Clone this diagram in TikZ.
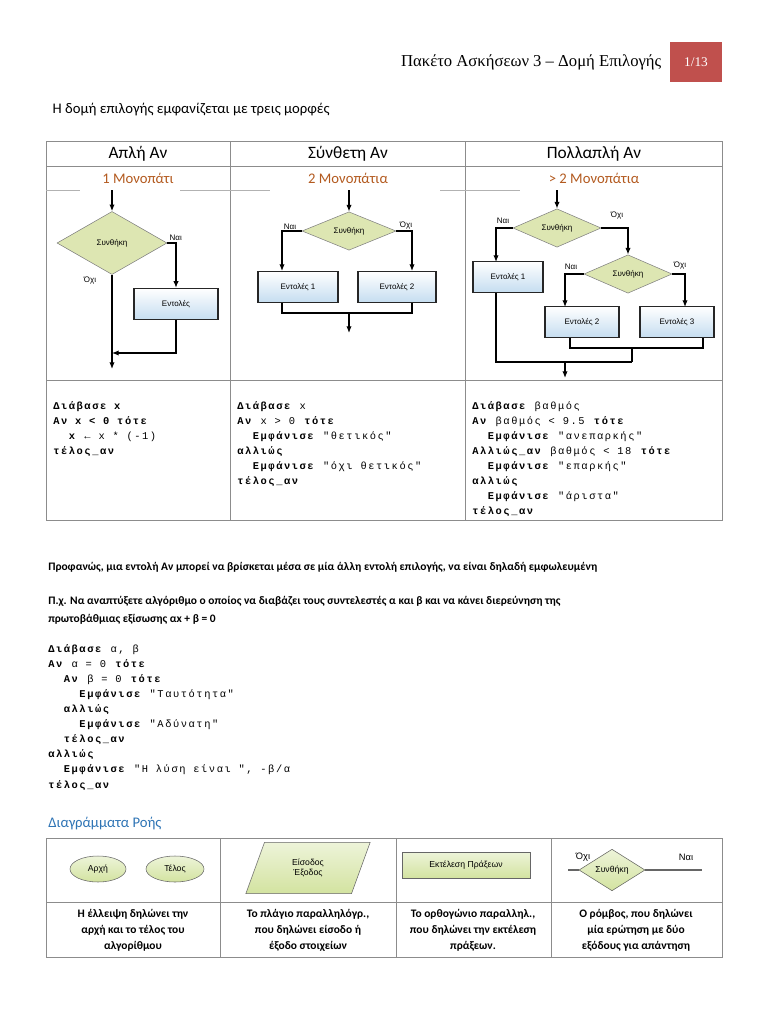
\documentclass[tikz,border=0pt]{standalone}
\usepackage{fontspec}
\setmainfont{Carlito}
\newfontfamily\hser{Liberation Serif}
\newfontfamily\cmono[LetterSpace=15]{Liberation Mono}
\newfontfamily\fsans{Liberation Sans}
\usetikzlibrary{shapes.geometric,arrows.meta}
\definecolor{brn}{HTML}{B35A1F}
\definecolor{hblue}{HTML}{2E74B5}
\definecolor{hred}{HTML}{C0504D}
\definecolor{dgreen}{HTML}{DDE6B2}
\definecolor{bgreen}{HTML}{D3E3A0}
\definecolor{bblue}{HTML}{C5DDF0}
\newcommand{\kw}[1]{\textbf{#1}}
\begin{document}
\begin{tikzpicture}[x=0.75pt,y=-0.75pt,
 mw/.style={minimum width=#1*0.75pt},
 mh/.style={minimum height=#1*0.75pt},
 grid/.style={draw=black!45,line width=0.6pt},
 box/.style={draw=black!85,line width=1pt,top color=white,bottom color=bblue,mw=#1,mh=31,inner sep=0pt,font=\fsans\fontsize{6}{7}\selectfont},
 dia/.style={diamond,draw=black!50,fill=dgreen,mw=#1,inner sep=0pt,font=\fsans\fontsize{6}{7}\selectfont},
 ln/.style={line width=0.9pt},
 ar/.style={line width=0.9pt,-{Latex[length=5pt,width=4pt]}},
 lab/.style={font=\fsans\fontsize{6}{7}\selectfont,inner sep=1pt},
 code/.style={anchor=base west,inner sep=0pt,font=\cmono\fontsize{7.8}{8}\selectfont},
 th/.style={font=\fontsize{13}{15}\selectfont},
 th2/.style={font=\fontsize{11}{13}\selectfont,text=brn},
 bt/.style={font=\bfseries\fontsize{8.6}{12}\selectfont,align=center},
 gsh/.style={draw=black!60,top color=bgreen!40,bottom color=bgreen,font=\fsans\fontsize{6.5}{8}\selectfont}]
\useasboundingbox (0,0) rectangle (768,1024);
\fill[white] (0,0) rectangle (768,1024);
% header
\node[anchor=east,font=\hser\fontsize{12.5}{14}\selectfont] (title) at (666,62) {Πακέτο Ασκήσεων 3 – Δομή Επιλογής};
\node[fill=hred,mw=52,mh=40,inner sep=0pt,text=white,font=\hser\fontsize{10}{12}\selectfont] (pg) at (696,62) {1/13};
\node[anchor=west,font=\fontsize{11}{13}\selectfont] (intro) at (48,110) {Η δομή επιλογής εμφανίζεται με τρεις μορφές};
% top table
\draw[grid] (46,141) rectangle (722,520);
\draw[grid] (230,141) -- (230,520) (465,141) -- (465,520);
\draw[grid] (46,166) -- (722,166) (46,380) -- (722,380);
\draw[black!30] (46,190) -- (80,190) (180,190) -- (270,190) (440,190) -- (520,190);
\node[th] (h1) at (138,154) {Απλή Αν};
\node[th] (h2) at (348,154) {Σύνθετη Αν};
\node[th] (h3) at (594,154) {Πολλαπλή Αν};
\node[th2] (s1) at (138,178) {1 Μονοπάτι};
\node[th2] (s2) at (348,178) {2 Μονοπάτια};
\node[th2] (s3) at (594,178) {> 2 Μονοπάτια};
% col1
\coordinate (a0) at (112,190);
\node[dia=110,mh=63] (d1) at (112,243) {Συνθήκη};
\node[box=84] (e1) at (176,304) {Εντολές};
\coordinate (a1) at (112,369);
\draw[ar] (a0) -- (d1.north);
\draw[ar] (d1.east) -| (e1.north);
\draw[ar] (e1.south) |- (112,353);
\draw[ar] (d1.south) -- (a1);
\node[lab,anchor=south west] (y1) at (168,242) {Ναι};
\node[lab] (n1) at (90,281) {Όχι};
% col2
\coordinate (b0) at (349,190);
\node[dia=94,mh=37] (d2) at (349,231) {Συνθήκη};
\node[box=80] (e21) at (298,287) {Εντολές 1};
\node[box=78] (e22) at (397,287) {Εντολές 2};
\coordinate (b1) at (349,333);
\draw[ar] (b0) -- (d2.north);
\draw[ar] (d2.west) -| (282,271);
\draw[ar] (d2.east) -| (412,271);
\draw[ln] (282,303) |- (412,313) -- (412,303);
\draw[ar] (349,313) -- (b1);
\node[lab,anchor=south] (y2) at (290,231) {Ναι};
\node[lab,anchor=south] (n2) at (406,231) {Όχι};
% col3
\coordinate (c0) at (557,190);
\node[dia=88,mh=38] (d3) at (557,228) {Συνθήκη};
\node[box=70] (e31) at (508,277) {Εντολές 1};
\node[dia=88,mh=38] (d4) at (628,274) {Συνθήκη};
\node[box=74] (e32) at (582,322) {Εντολές 2};
\node[box=74] (e33) at (677,322) {Εντολές 3};
\coordinate (c1) at (565,378);
\draw[ar] (c0) -- (d3.north);
\draw[ar] (d3.west) -| (496,262);
\draw[ar] (d3.east) -| (d4.north);
\draw[ar] (d4.west) -| (565,307);
\draw[ar] (d4.east) -| (685,307);
\draw[ln] (570,338) |- (703,348) -- (703,338);
\draw[ln] (632,348) -- (632,362);
\draw[ln] (496,293) |- (632,362);
\draw[ar] (565,362) -- (c1);
\node[lab,anchor=south] (y3) at (503,225) {Ναι};
\node[lab,anchor=south] (n3) at (617,221) {Όχι};
\node[lab,anchor=south] (y4) at (571,271) {Ναι};
\node[lab,anchor=south] (n4) at (680,271) {Όχι};
% code row
\node[code] (k11) at (53,409) {\kw{Διάβασε x}};
\node[code] (k12) at (53,424) {\kw{Αν x < 0 τότε}};
\node[code] (k13) at (53,439) {\ \ \kw{x} ← x * (-1)};
\node[code] (k14) at (53,454) {\kw{τέλος\_αν}};
\node[code] (k21) at (237,409) {\kw{Διάβασε} x};
\node[code] (k22) at (237,424) {\kw{Αν} x > 0 \kw{τότε}};
\node[code] (k23) at (237,439) {\ \ \kw{Εμφάνισε} "θετικός"};
\node[code] (k24) at (237,454) {\kw{αλλιώς}};
\node[code] (k25) at (237,469) {\ \ \kw{Εμφάνισε} "όχι θετικός"};
\node[code] (k26) at (237,484) {\kw{τέλος\_αν}};
\node[code] (k31) at (472,409) {\kw{Διάβασε} βαθμός};
\node[code] (k32) at (472,424) {\kw{Αν} βαθμός < 9.5 \kw{τότε}};
\node[code] (k33) at (472,439) {\ \ \kw{Εμφάνισε} "ανεπαρκής"};
\node[code] (k34) at (472,454) {\kw{Αλλιώς\_αν} βαθμός < 18 \kw{τότε}};
\node[code] (k35) at (472,469) {\ \ \kw{Εμφάνισε} "επαρκής"};
\node[code] (k36) at (472,484) {\kw{αλλιώς}};
\node[code] (k37) at (472,499) {\ \ \kw{Εμφάνισε} "άριστα"};
\node[code] (k38) at (472,514) {\kw{τέλος\_αν}};
% paragraph
\node[anchor=base west,font=\bfseries\fontsize{8.6}{10}\selectfont,inner sep=0pt] (p1) at (48,570) {Προφανώς, μια εντολή Αν μπορεί να βρίσκεται μέσα σε μία άλλη εντολή επιλογής, να είναι δηλαδή εμφωλευμένη};
\node[anchor=base west,font=\bfseries\fontsize{8.6}{10}\selectfont,inner sep=0pt] (p2) at (48,604) {Π.χ. Να αναπτύξετε αλγόριθμο ο οποίος να διαβάζει τους συντελεστές α και β και να κάνει διερεύνηση της};
\node[anchor=base west,font=\bfseries\fontsize{8.6}{10}\selectfont,inner sep=0pt] (p3) at (48,622) {πρωτοβάθμιας εξίσωσης αx + β = 0};
% nested code
\node[code] (m1) at (48,652) {\kw{Διάβασε} α, β};
\node[code] (m2) at (48,667) {\kw{Αν} α = 0 \kw{τότε}};
\node[code] (m3) at (48,682) {\ \ \kw{Αν} β = 0 \kw{τότε}};
\node[code] (m4) at (48,697) {\ \ \ \ \kw{Εμφάνισε} "Ταυτότητα"};
\node[code] (m5) at (48,712) {\ \ \kw{αλλιώς}};
\node[code] (m6) at (48,727) {\ \ \ \ \kw{Εμφάνισε} "Αδύνατη"};
\node[code] (m7) at (48,742) {\ \ \kw{τέλος\_αν}};
\node[code] (m8) at (48,757) {\kw{αλλιώς}};
\node[code] (m9) at (48,772) {\ \ \kw{Εμφάνισε} "Η λύση είναι ", -β/α};
\node[code] (m10) at (48,788) {\kw{τέλος\_αν}};
\node[anchor=base west,inner sep=0pt,text=hblue,font=\fontsize{11}{13}\selectfont] (dr) at (48,827) {Διαγράμματα Ροής};
% bottom table
\draw[grid] (46,838) rectangle (722,957);
\draw[grid] (220,838) -- (220,957) (396,838) -- (396,957) (551,838) -- (551,957) (46,902) -- (722,902);
\node[gsh,ellipse,mw=56,mh=26,inner sep=0pt] (st) at (98,869) {Αρχή};
\node[gsh,ellipse,mw=58,mh=26,inner sep=0pt] (en) at (175,869) {Τέλος};
\node[gsh,trapezium,trapezium left angle=70,trapezium right angle=110,mw=125,mh=34,inner sep=0pt,align=center] (io) at (308,868) {Είσοδος\\Έξοδος};
\node[gsh,mw=128,mh=26,inner sep=0pt] (pr) at (466,865) {Εκτέλεση Πράξεων};
\node[gsh,diamond,fill=bgreen,mw=66,mh=36,inner sep=0pt] (cd) at (612,870) {Συνθήκη};
\coordinate (cl) at (568,870);
\coordinate (cr) at (702,870);
\draw[black!60,line width=1pt] (cl) -- (cd.west) (cd.east) -- (cr);
\node[lab,font=\fsans\fontsize{7}{8}\selectfont] (no) at (583,857) {Όχι};
\node[lab,font=\fsans\fontsize{7}{8}\selectfont] (ye) at (686,857) {Ναι};
\node[bt] (t1) at (133,930) {Η έλλειψη δηλώνει την\\αρχή και το τέλος του\\αλγορίθμου};
\node[bt] (t2) at (308,930) {Το πλάγιο παραλληλόγρ.,\\που δηλώνει είσοδο ή\\έξοδο στοιχείων};
\node[bt] (t3) at (473,930) {Το ορθογώνιο παραλληλ.,\\που δηλώνει την εκτέλεση\\πράξεων.};
\node[bt] (t4) at (636,930) {Ο ρόμβος, που δηλώνει\\μία ερώτηση με δύο\\εξόδους για απάντηση};
\end{tikzpicture}
\end{document}
